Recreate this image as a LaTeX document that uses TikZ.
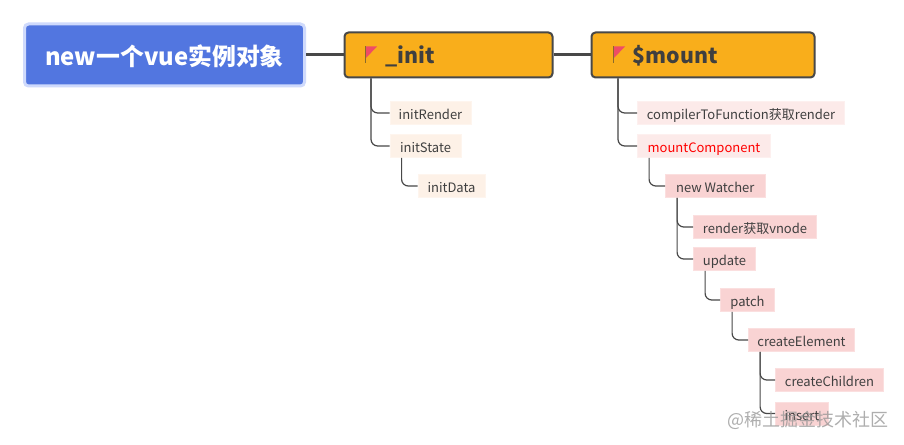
\documentclass[tikz,border=0pt]{standalone}
\usepackage{fontspec}
\setmainfont{Noto Sans CJK SC}
\usetikzlibrary{calc}
\def\u{.75pt}
\definecolor{txt}{HTML}{3F3F3F}
\definecolor{linkc}{HTML}{484848}
\definecolor{rootf}{HTML}{5276E0}
\definecolor{rootb}{HTML}{CFDAFC}
\definecolor{orangef}{HTML}{F9AE1B}
\definecolor{creamf}{HTML}{FDF1E7}
\definecolor{creamb}{HTML}{FEF5EE}
\definecolor{palef}{HTML}{FCEAE9}
\definecolor{paleb}{HTML}{FDF0EF}
\definecolor{pinkf}{HTML}{F9D3D3}
\definecolor{pinkb}{HTML}{FBDFDF}
\definecolor{flagc}{HTML}{EE4C66}
\definecolor{polec}{HTML}{8A6A2A}
\tikzset{
  base/.style={inner sep=0pt,text=txt,text height=12pt,text depth=1.5pt,font=\fontsize{9.75pt}{12pt}\selectfont},
  rootbox/.style={inner sep=0pt,draw=rootb,fill=rootf,line width=2.25pt,rounded corners=3pt,text=white,
     text height=18.2pt,text depth=2.5pt,font=\fontsize{17.9pt}{20pt}\selectfont\bfseries},
  topic/.style={inner sep=0pt,draw=linkc,fill=orangef,line width=1.5pt,rounded corners=3pt,text=txt,align=left,
     text height=14pt,text depth=1.5pt,font=\fontsize{16pt}{20pt}\selectfont\bfseries},
  cream/.style={base,draw=creamb,fill=creamf,line width=.6pt},
  pale/.style={base,draw=paleb,fill=palef,line width=.6pt},
  pink/.style={base,draw=pinkb,fill=pinkf,line width=.6pt},
  link/.style={draw=linkc,line width=.9pt,rounded corners=5pt},
  thick link/.style={draw=linkc,line width=2.25pt},
  flagface/.style={fill=flagc},
  flagpole/.style={draw=polec,line width=.8pt},
  mark text/.style={text=gray!85,opacity=.75,font=\fontsize{13.5pt}{15pt}\selectfont},
}
\newcommand\bx[7]{% style, name, x1, y1, x2, y2, text
  \node[#1,minimum width=(#5-#3)*\u,minimum height=(#6-#4)*\u] (#2) at ({(#3+#5)/2},{(#4+#6)/2}) {#7};}
\begin{document}
\begin{tikzpicture}[x=.75pt,y=-.75pt]
\fill[white] (0,0) rectangle (904,445);
\useasboundingbox (0,0) rectangle (904,445);
\bx{rootbox}{root}{24.5}{24}{304.5}{86}{new一个vue实例对象}
\node[topic,minimum height=45*\u,text width=208*\u] (init) at (448.5,55) {\hspace*{30.5pt}\_init};
\node[topic,minimum height=45*\u,text width=223*\u] (mount) at (703,55) {\hspace*{31pt}\$mount};
\draw[thick link] (root.east) -- (init.west);
\draw[thick link] (init.east) -- (mount.west);
% flags
\draw[flagpole] (365.5,46.5) -- (365.5,63);
\fill[flagface] (366,46.5) -- (377,46.5) -- (366,58) -- cycle;
\draw[flagpole] (613.5,46.5) -- (613.5,63);
\fill[flagface] (614,46.5) -- (625,46.5) -- (614,58) -- cycle;
% leaves
\bx{cream}{initRender}{390}{101.5}{471}{124.5}{initRender}
\bx{cream}{initState}{390}{134.5}{461}{157.5}{initState}
\bx{cream}{initData}{418}{174.5}{485}{197.5}{initData}
\bx{pale}{compiler}{637.5}{101.5}{844.5}{124.5}{compilerToFunction获取render}
\bx{pale}{mountComp}{637.5}{134.5}{770.5}{157.5}{\textcolor{red}{mountComponent}}
\bx{pink}{watcher}{665.5}{174.5}{765}{197.5}{new Watcher}
\bx{pink}{renderV}{693.5}{215.5}{816.5}{238.5}{render获取vnode}
\bx{pink}{update}{693.5}{247.5}{755.5}{270.5}{update}
\bx{pink}{patch}{720.5}{288.5}{774.5}{311.5}{patch}
\bx{pink}{createEl}{748.5}{328.5}{854.5}{351.5}{createElement}
\bx{pink}{createCh}{775.5}{368.5}{883.5}{391.5}{createChildren}
\bx{pink}{insert}{775.5}{402}{828.5}{425}{insert}
% connectors
\draw[link] ($(init.south west)+(27.5,0)$) |- (initRender.west);
\draw[link] ($(init.south west)+(27.5,0)$) |- (initState.west);
\draw[link] ($(initState.south west)+(12,0)$) |- (initData.west);
\draw[link] ($(mount.south west)+(27.5,0)$) |- (compiler.west);
\draw[link] ($(mount.south west)+(27.5,0)$) |- (mountComp.west);
\draw[link] ($(mountComp.south west)+(12,0)$) |- (watcher.west);
\draw[link] ($(watcher.south west)+(12,0)$) |- (renderV.west);
\draw[link] ($(watcher.south west)+(12,0)$) |- (update.west);
\draw[link] ($(update.south west)+(12,0)$) |- (patch.west);
\draw[link] ($(patch.south west)+(12,0)$) |- (createEl.west);
\draw[link] ($(createEl.south west)+(12,0)$) |- (createCh.west);
\draw[link] ($(createEl.south west)+(12,0)$) |- (insert.west);
% watermark
\node[mark text,inner sep=0pt] (wm) at (808,420) {@稀土掘金技术社区};
\end{tikzpicture}
\end{document}
